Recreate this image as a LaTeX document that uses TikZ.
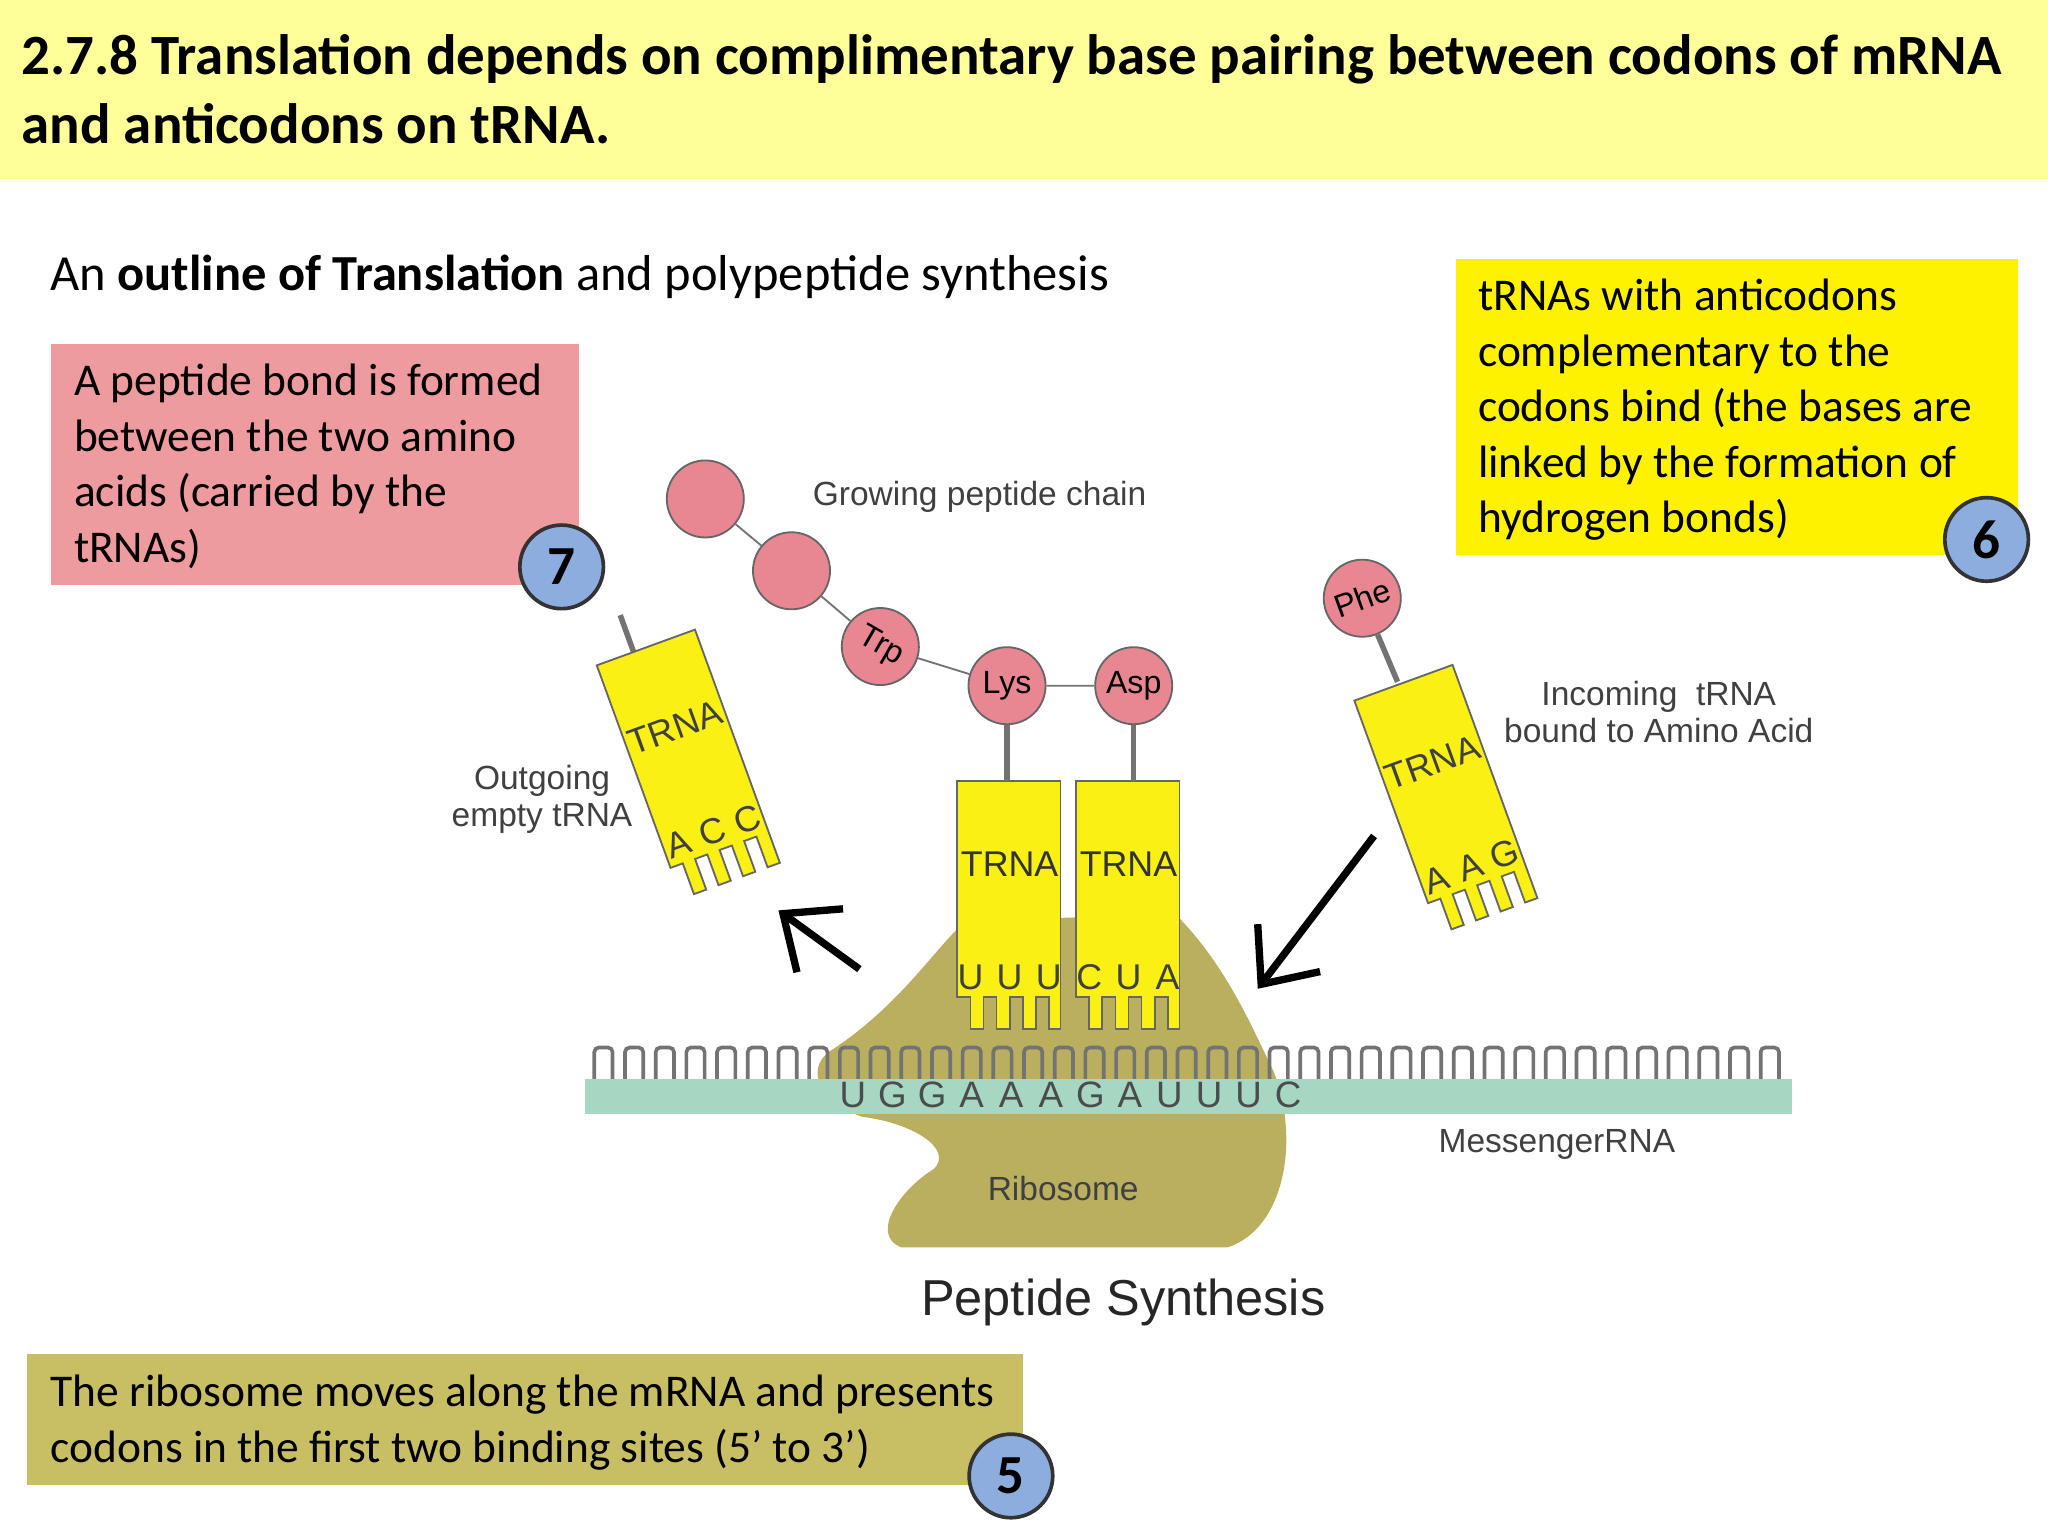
\documentclass[tikz,border=0pt]{standalone}
\usepackage{fontspec}
\setmainfont{Carlito}
\newfontfamily\diafont{Liberation Sans}
\usetikzlibrary{arrows.meta}
\definecolor{titleYellow}{RGB}{255,255,153}
\definecolor{noteYellow}{RGB}{255,242,0}
\definecolor{notePink}{RGB}{238,155,160}
\definecolor{noteOlive}{RGB}{200,190,100}
\definecolor{stepBlue}{RGB}{141,173,222}
\definecolor{riboOlive}{RGB}{185,175,95}
\definecolor{mrnaTeal}{RGB}{165,215,195}
\definecolor{aminoPink}{RGB}{232,135,145}
\definecolor{trnaYellow}{RGB}{250,240,20}

\begin{document}
\begin{tikzpicture}[
    x=0.1mm, y=0.1mm,
    note/.style={rectangle, anchor=north west, inner sep=0pt, align=left, font=\fontsize{9.9}{12.1}\selectfont},
    marker/.style={circle, draw=black!80, fill=stepBlue, thick, minimum size=6.4mm, inner sep=0pt, font=\fontsize{12}{12}\selectfont\bfseries},
    amino/.style={circle, draw=black!60, fill=aminoPink, minimum size=5.9mm, inner sep=0pt, font=\diafont\fontsize{7}{7}\selectfont},
    lbl/.style={font=\diafont\fontsize{7.3}{8.2}\selectfont, text=black!75, align=center},
    trna/.style={draw=black!60, fill=trnaYellow},
    bigarrow/.style={-{Straight Barb[length=3.5mm, width=6mm]}, line width=1.6pt}
]
\useasboundingbox (0,0) rectangle (1568,-1176);

% Title band
\fill[titleYellow] (0,0) rectangle (1568,-137);
\node[anchor=north west, inner sep=0pt, align=left, font=\fontsize{12.4}{15}\selectfont\bfseries] (title) at (16,-26)
  {2.7.8 Translation depends on complimentary base pairing between codons of mRNA\\and anticodons on tRNA.};
\node[anchor=west, inner sep=0pt, font=\fontsize{11}{12}\selectfont] (subtitle) at (38,-212) {An \textbf{outline of Translation} and polypeptide synthesis};

% Notes
\fill[notePink] (39,-263) rectangle (443,-448);
\node[note] (pinknote) at (56,-278) {A peptide bond is formed\\between the two amino\\acids (carried by the\\tRNAs)};
\fill[noteYellow] (1115,-198) rectangle (1545,-425);
\node[note] (yellownote) at (1131,-213) {tRNAs with anticodons\\complementary to the\\codons bind (the bases are\\linked by the formation of\\hydrogen bonds)};
\fill[noteOlive] (21,-1037) rectangle (783,-1137);
\node[note] (olivenote) at (38,-1052) {The ribosome moves along the mRNA and presents\\codons in the first two binding sites (5’ to 3’)};

% Ribosome
\fill[riboOlive] (635,-805) .. controls (690,-770) and (720,-720) .. (740,-705)
  -- (900,-700) .. controls (940,-740) and (960,-790) .. (975,-820)
  .. controls (995,-870) and (985,-940) .. (940,-955)
  -- (690,-955) .. controls (665,-945) and (690,-910) .. (715,-895)
  .. controls (730,-880) and (700,-860) .. (660,-855)
  .. controls (630,-845) and (615,-820) .. (635,-805) -- cycle;

% Messenger RNA
\fill[mrnaTeal] (448,-826) rectangle (1372,-853);
\foreach \i in {0,...,38} {
  \draw[black!55, thick, rounded corners=1pt] (455+23.5*\i,-826) -- (455+23.5*\i,-802) -- (469+23.5*\i,-802) -- (469+23.5*\i,-826);
}
\foreach \b [count=\k from 0] in {U,G,G,A,A,A,G,A,U,U,U,C}
  \node[font=\diafont\fontsize{8}{8}\selectfont, text=black!70] (codon\k) at (653+30.3*\k,-838) {\b};

% Middle tRNAs
\foreach \x/\nm/\bases in {733/lys/{U,U,U}, 824/asp/{C,U,A}} {
  \begin{scope}[shift={(\x,-598)}]
    \draw[trna] (0,0) -- (79,0) -- (79,-190) -- (70,-190) -- (70,-165) -- (60,-165) -- (60,-190) -- (50,-190) -- (50,-165)
      -- (40,-165) -- (40,-190) -- (30,-190) -- (30,-165) -- (20,-165) -- (20,-190) -- (10,-190) -- (10,-165) -- (0,-165) -- cycle;
    \node[lbl, font=\diafont\fontsize{7.8}{8}\selectfont, text=black!80] at (40,-64) {TRNA};
    \foreach \c [count=\j from 0] in \bases
      \node[lbl, font=\diafont\fontsize{7.8}{8}\selectfont] at (10+30*\j,-150) {\c};
  \end{scope}
}

% Outgoing tRNA
\begin{scope}[shift={(527,-585)}, rotate=20]
  \draw[black!55, line width=1.2pt] (-10,95) -- (-10,125);
  \draw[trna] (-40,95) -- (40,95) -- (40,-95) -- (30,-95) -- (30,-70) -- (20,-70) -- (20,-95) -- (10,-95) -- (10,-70)
    -- (0,-70) -- (0,-95) -- (-10,-95) -- (-10,-70) -- (-20,-70) -- (-20,-95) -- (-30,-95) -- (-30,-70) -- (-40,-70) -- cycle;
  \node[lbl, rotate=20, font=\diafont\fontsize{7.8}{8}\selectfont] at (0,30) {TRNA};
  \foreach \c [count=\j from 0] in {A,C,C}
    \node[lbl, rotate=20, font=\diafont\fontsize{7.8}{8}\selectfont] at (-28+28*\j,-55) {\c};
\end{scope}

% Incoming tRNA
\begin{scope}[shift={(1107,-612)}, rotate=20]
  \draw[trna] (-40,95) -- (40,95) -- (40,-95) -- (30,-95) -- (30,-70) -- (20,-70) -- (20,-95) -- (10,-95) -- (10,-70)
    -- (0,-70) -- (0,-95) -- (-10,-95) -- (-10,-70) -- (-20,-70) -- (-20,-95) -- (-30,-95) -- (-30,-70) -- (-40,-70) -- cycle;
  \node[lbl, rotate=20, font=\diafont\fontsize{7.8}{8}\selectfont] at (0,30) {TRNA};
  \foreach \c [count=\j from 0] in {A,A,G}
    \node[lbl, rotate=20, font=\diafont\fontsize{7.8}{8}\selectfont] at (-28+28*\j,-55) {\c};
\end{scope}

% Amino acids
\node[amino] (a1) at (540,-382) {};
\node[amino] (a2) at (606,-437) {};
\node[amino, rotate=-30] (trp) at (674,-495) {Trp};
\node[amino] (lys) at (771,-525) {Lys};
\node[amino] (asp) at (868,-525) {Asp};
\node[amino, rotate=20] (phe) at (1043,-458) {Phe};
\draw[black!55] (a1) -- (a2) -- (trp) -- (lys) -- (asp);
\draw[black!55, line width=1.2pt] (lys) -- (771,-598);
\draw[black!55, line width=1.2pt] (asp) -- (868,-598);
\draw[black!55, line width=1.2pt] (phe) -- (1070,-522);

% Labels
\node[lbl] (growing) at (750,-380) {Growing peptide chain};
\node[lbl] (outgoing) at (415,-612) {Outgoing\\empty tRNA};
\node[lbl] (incoming) at (1270,-545) {Incoming\ \ tRNA\\bound to Amino Acid};
\node[lbl] (messenger) at (1192,-876) {MessengerRNA};
\node[lbl] (ribosome) at (814,-910) {Ribosome};
\node[lbl, font=\diafont\fontsize{11}{12}\selectfont, text=black!85] (synthesis) at (860,-997) {Peptide Synthesis};

% Movement arrows
\coordinate (outA) at (658,-742);
\coordinate (outB) at (596,-697);
\coordinate (inA) at (1052,-640);
\coordinate (inB) at (963,-757);
\draw[bigarrow] (outA) -- (outB);
\draw[bigarrow] (inA) -- (inB);

% Step markers
\node[marker] (seven) at (430,-434) {7};
\node[marker] (six) at (1521,-413) {6};
\node[marker] (five) at (774,-1130) {5};
\end{tikzpicture}
\end{document}
